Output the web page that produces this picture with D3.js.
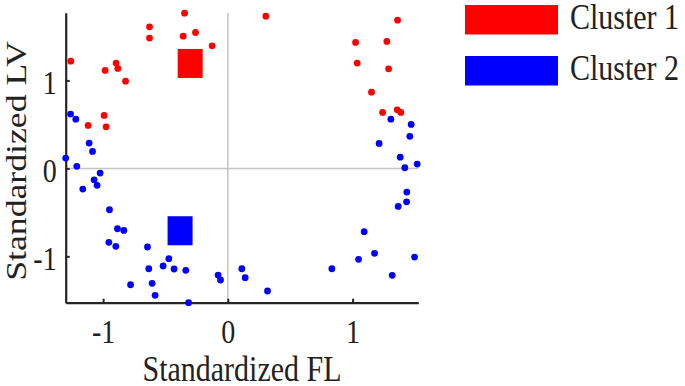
<!DOCTYPE html>
<html>
<head>
<meta charset="utf-8">
<script src="https://cdn.jsdelivr.net/npm/d3@7"></script>
<style>
  html, body { margin: 0; padding: 0; background: #fff; }
  svg { display: block; }
  text { font-family: "Liberation Serif", "Times New Roman", serif; fill: #222; }
</style>
</head>
<body>
<svg id="chart" width="685" height="386"></svg>
<script>
// ---- data ----
const cluster1X = [-1.259, -0.984, -0.896, -0.882, -0.820, -0.628, -0.628, -0.347, -0.358, -0.259, -0.126,
                   -1.120, -0.992, -0.976, 0.305, 1.361, 1.024, 1.275, 1.037, 1.289, 1.152, 1.241, 1.358, 1.387];
const cluster1Y = [1.219, 1.114, 1.197, 1.136, 0.992, 1.609, 1.481, 1.765, 1.503, 1.545, 1.393,
                   0.489, 0.602, 0.473, 1.731, 1.685, 1.432, 1.443, 1.197, 1.132, 0.867, 0.636, 0.666, 0.636];
const cluster2X = [-1.261, -1.219, -1.112, -1.085, -1.300, -1.211, -1.163, -1.072, -1.048, -1.024, -0.949,
                   -0.885, -0.834, -0.954, -0.898, -0.644, -0.473, -0.634, -0.519, -0.431, -0.337, -0.780,
                   -0.607, -0.583, -0.315, -0.078, -0.059, 0.112, 0.139, 0.318, 0.834, 1.048, 1.176, 1.093,
                   1.318, 1.497, 1.366, 1.433, 1.435, 1.382, 1.419, 1.518, 1.307, 1.470, 1.459, 1.213];
const cluster2Y = [0.617, 0.560, 0.288, 0.193, 0.117, 0.023, -0.235, -0.130, -0.193, -0.053, -0.470,
                   -0.686, -0.705, -0.841, -0.886, -0.894, -1.027, -1.141, -1.110, -1.144, -1.159, -1.323,
                   -1.307, -1.443, -1.527, -1.213, -1.269, -1.141, -1.243, -1.394, -1.141, -1.034, -0.966, -0.720,
                   -1.216, -1.008, -0.432, -0.380, -0.269, 0.128, 0.007, 0.049, 0.560, 0.500, 0.364, 0.284];
const centroidX = [-0.302, -0.383];
const centroidY = [1.193, -0.709];
const clusterNames = ["Cluster 1", "Cluster 2"];
const clusterColors = ["#ff0000", "#0000ff"];
const xTicks = [-1, 0, 1];
const yTicks = [-1, 0, 1];
const xLabel = "Standardized FL";
const yLabel = "Standardized LV";

// ---- layout ----
const svg = d3.select("#chart");
const STRETCH = 1.17;       // reference text is vertically stretched
const pLeft = 65.7, pRight = 418.3, pTop = 12.7, pBottom = 302.7;

const x = d3.scaleLinear().domain([-1.3, 1.527]).range([pLeft, pRight]);
const y = d3.scaleLinear().domain([-1.527, 1.77]).range([pBottom, pTop]);

// zero lines
svg.append("line")
  .attr("x1", x(0)).attr("x2", x(0)).attr("y1", pTop).attr("y2", pBottom)
  .attr("stroke", "#c4c4c4").attr("stroke-width", 1.5);
svg.append("line")
  .attr("x1", pLeft).attr("x2", pRight).attr("y1", y(0)).attr("y2", y(0))
  .attr("stroke", "#c4c4c4").attr("stroke-width", 1.5);

// axes
const gx = svg.append("g").attr("transform", `translate(0,${pBottom})`)
  .call(d3.axisBottom(x).tickValues(xTicks).tickSize(-4).tickSizeOuter(0).tickFormat(d => String(d)));
const gy = svg.append("g").attr("transform", `translate(${pLeft},0)`)
  .call(d3.axisLeft(y).tickValues(yTicks).tickSize(-4).tickSizeOuter(0).tickFormat(d => String(d)));

[gx, gy].forEach(g => {
  g.attr("font-family", null).attr("font-size", null);
  g.select(".domain").attr("stroke", "#262626").attr("stroke-width", 2.2);
  g.selectAll(".tick line").attr("stroke", "#262626").attr("stroke-width", 2);
  g.selectAll(".tick text").attr("fill", "#222").style("font-size", "28px");
});

gx.selectAll(".tick text")
  .attr("y", null).attr("dy", null).attr("text-anchor", "middle")
  .attr("transform", `translate(0,${342.5 - pBottom}) scale(1,${STRETCH})`);
gy.selectAll(".tick text")
  .attr("x", null).attr("dy", null).attr("text-anchor", "end")
  .attr("transform", `translate(-9,13.4) scale(1,${STRETCH})`);

// axis titles
svg.append("text")
  .attr("text-anchor", "middle").style("font-size", "30px")
  .attr("transform", `translate(${(pLeft + pRight) / 2},381) scale(1,${STRETCH})`)
  .text(xLabel);
svg.append("text")
  .attr("text-anchor", "middle").style("font-size", "30px")
  .attr("transform", `translate(26,161) scale(1,1.19) rotate(-90)`)
  .text(yLabel);

// points
const pts = [
  d3.zip(cluster1X, cluster1Y),
  d3.zip(cluster2X, cluster2Y)
];
pts.forEach((arr, i) => {
  svg.append("g").selectAll("circle").data(arr).join("circle")
    .attr("cx", d => x(d[0])).attr("cy", d => y(d[1]))
    .attr("r", 3.4).attr("fill", clusterColors[i]);
});

// centroids
svg.append("g").selectAll("rect").data(d3.range(centroidX.length)).join("rect")
  .attr("x", i => x(centroidX[i]) - 12.5)
  .attr("y", i => y(centroidY[i]) - 14.5)
  .attr("width", 25).attr("height", 29)
  .attr("fill", i => clusterColors[i]);

// legend
const lg = svg.append("g").selectAll("g").data(clusterNames).join("g")
  .attr("transform", (d, i) => `translate(465,${5 + i * 51})`);
lg.append("rect").attr("width", 93).attr("height", 29.5)
  .attr("fill", (d, i) => clusterColors[i]);
lg.append("text").style("font-size", "30px")
  .attr("transform", `translate(105,23.5) scale(1,${STRETCH})`)
  .text(d => d);
</script>
</body>
</html>
